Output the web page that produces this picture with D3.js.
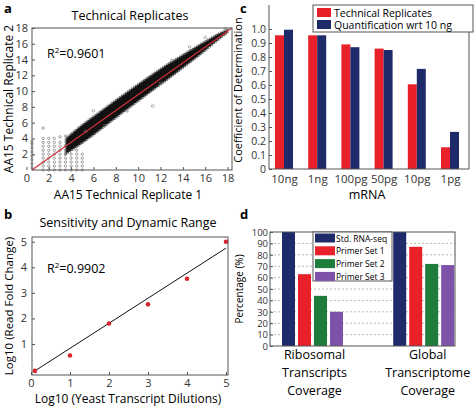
<!DOCTYPE html>
<html><head><meta charset="utf-8">
<script src="https://cdn.jsdelivr.net/npm/d3@7"></script>
<style>body{margin:0;background:#fff}text{font-family:"Open Sans",sans-serif}</style>
</head><body><svg id="c" width="474" height="408"></svg>
<script>
// Panel a: dense band (read edges) + sparse low-count columns
const bandX     = [3.5, 4, 5, 6, 8, 10, 12, 14, 15, 16, 17, 18];
const bandLow   = [2.0, 2.4, 3.4, 4.4, 6.6, 8.7, 10.8, 12.9, 14.0, 15.1, 16.3, 17.4];
const bandHigh  = [4.0, 4.6, 5.8, 6.8, 8.9, 10.9, 12.9, 14.6, 15.5, 16.3, 17.2, 17.8];
const colX  = [0.5, 1.5, 2, 2.5, 3, 3.5, 4, 4.5, 5];
const colY  = [[0.3,0.8,1.3,1.8,2.3,2.8,3.3,3.6],[0,0.5,1,1.5,2,2.5,3,3.5,4,5.3],[0,0.5,1,1.5,2,2.5,3,3.5,4],
               [0,0.5,1,1.5,2,2.5,3,3.5,4],[0,0.5,1,1.5,2,2.5,3,3.5,4.2],[0,0.5,1,1.5,2,2.5,3,4.3],
               [0,0.5,1,1.5,2,4.5],[0,0.5,1,1.5,2,2.5],[0,0.5,1,1.5,2]];
const outliers = [[5.3,4.9],[7,5.6],[9,7.5],[11.3,8.1],[12,11],[14.6,15.6],[16,16.8],[17.8,17.9],[13,13.9],[6,7.5]];
const aTicks = [0,2,4,6,8,10,12,14,16,18];
// Panel b
const dilution = [0.1, 1, 2, 3, 4, 5];
const foldChange = [-0.05, 0.55, 1.8, 2.55, 3.55, 5.0];
const fitLine = [[0.1,-0.05],[5,4.75]];
// Panel c
const mrna = ["10ng","1ng","100pg","50pg","10pg","1pg"];
const techRep = [0.955,0.955,0.89,0.86,0.605,0.155];
const quant10 = [0.995,0.955,0.87,0.85,0.715,0.265];
const cTicks = [0,0.1,0.2,0.3,0.4,0.5,0.6,0.7,0.8,0.9,1.0];
// Panel d
const coverage = ["Ribosomal Transcripts Coverage","Global Transcriptome Coverage"];
const coverageLines = [["Ribosomal","Transcripts","Coverage"],["Global","Transcriptome","Coverage"]];
const dSeries = ["Std. RNA-seq","Primer Set 1","Primer Set 2","Primer Set 3"];
const dValues = [[100,63,44,30],[100,87,72,71]];
const dTicks = [0,10,20,30,40,50,60,70,80,90,100];

const svg = d3.select("#c");
const RED="#e8202a", NAVY="#1f2a6b", GREEN="#1f7d3c", PURPLE="#7e52a9";
function styleAxis(g){g.selectAll("path,line").attr("stroke","#555");g.selectAll("text").attr("fill","#333");}
function letter(t,x,y){svg.append("text").attr("x",x).attr("y",y).attr("font-size",13).attr("font-weight","bold").attr("font-family","Arial,sans-serif").text(t);}

// ---- a
{
const x=d3.scaleLinear().domain([0.5,18.4]).range([32,232]);
const y=d3.scaleLinear().domain([0,18]).range([170,28]);
const g=svg.append("g");
colX.forEach((cx,i)=>colY[i].forEach(cy=>g.append("circle").attr("cx",x(cx)).attr("cy",y(cy)).attr("r",1.2).attr("fill","none").attr("stroke","#666").attr("stroke-width",0.6)));
const area=d3.area().x((d,i)=>x(bandX[i])).y0((d,i)=>y(bandLow[i])).y1((d,i)=>y(bandHigh[i])).curve(d3.curveBasis);
g.append("path").datum(bandX).attr("d",area).attr("fill","#111").attr("stroke","#777").attr("stroke-width",2).attr("stroke-dasharray","1.5,1");
outliers.forEach(p=>g.append("circle").attr("cx",x(p[0])).attr("cy",y(p[1])).attr("r",1.3).attr("fill","none").attr("stroke","#777").attr("stroke-width",0.6));
g.append("line").attr("x1",x(0.5)).attr("y1",y(0)).attr("x2",x(18.4)).attr("y2",y(18)).attr("stroke","#d03038").attr("stroke-width",1.2);
g.append("rect").attr("x",32).attr("y",28).attr("width",200).attr("height",142).attr("fill","none").attr("stroke","#555");
const xa=g.append("g").attr("transform","translate(0,170)").call(d3.axisBottom(x).tickValues(aTicks).tickSize(-3).tickPadding(4));
xa.select(".domain").remove();xa.selectAll("text").attr("font-size",11);styleAxis(xa);
const ya=g.append("g").attr("transform","translate(32,0)").call(d3.axisLeft(y).tickValues(aTicks.slice(1)).tickSize(-3).tickPadding(4));
ya.select(".domain").remove();ya.selectAll("text").attr("font-size",11);styleAxis(ya);
svg.append("text").attr("x",130).attr("y",20).attr("text-anchor","middle").attr("font-size",12.5).text("Technical Replicates");
svg.append("text").attr("x",128).attr("y",199).attr("text-anchor","middle").attr("font-size",12).text("AA15 Technical Replicate 1");
svg.append("text").attr("transform","translate(13,99) rotate(-90)").attr("text-anchor","middle").attr("font-size",12).text("AA15 Technical Replicate 2");
const r=svg.append("text").attr("x",47).attr("y",58).attr("font-size",12.5);
r.append("tspan").text("R");r.append("tspan").attr("font-size",8).attr("dy",-5).text("2");r.append("tspan").attr("dy",5).text("=0.9601");
letter("a",4,13);
}
// ---- b
{
const x=d3.scaleLinear().domain([0,5]).range([31,226]);
const y=d3.scaleLinear().domain([0,5]).range([369.6,241.7]);
const g=svg.append("g");
g.append("line").attr("x1",x(fitLine[0][0])).attr("y1",y(fitLine[0][1])).attr("x2",x(fitLine[1][0])).attr("y2",y(fitLine[1][1])).attr("stroke","#111").attr("stroke-width",1);
dilution.forEach((d,i)=>g.append("circle").attr("cx",x(d)).attr("cy",y(foldChange[i])).attr("r",2.3).attr("fill","#d8252e"));
g.append("rect").attr("x",32).attr("y",237).attr("width",196).attr("height",138).attr("fill","none").attr("stroke","#555");
const xa=g.append("g").attr("transform","translate(0,375)").call(d3.axisBottom(x).tickValues([0,1,2,3,4,5]).tickFormat(d3.format("d")).tickSize(-3).tickPadding(4));
xa.select(".domain").remove();xa.selectAll("text").attr("font-size",11);styleAxis(xa);
const ya=g.append("g").attr("transform","translate(32,0)").call(d3.axisLeft(y).tickValues([1,2,3,4,5]).tickFormat(d3.format("d")).tickSize(-3).tickPadding(5));
ya.select(".domain").remove();ya.selectAll("text").attr("font-size",11);styleAxis(ya);
svg.append("text").attr("x",128).attr("y",227).attr("text-anchor","middle").attr("font-size",12.5).text("Sensitivity and Dynamic Range");
svg.append("text").attr("x",128).attr("y",403).attr("text-anchor","middle").attr("font-size",12).text("Log10 (Yeast Transcript Dilutions)");
svg.append("text").attr("transform","translate(13,306) rotate(-90)").attr("text-anchor","middle").attr("font-size",11.5).text("Log10 (Read Fold Change)");
const r=svg.append("text").attr("x",47).attr("y",273).attr("font-size",12.5);
r.append("tspan").text("R");r.append("tspan").attr("font-size",8).attr("dy",-5).text("2");r.append("tspan").attr("dy",5).text("=0.9902");
letter("b",4,219);
}
// ---- c
{
const x=d3.scalePoint().domain(mrna).range([284,450]);
const y=d3.scaleLinear().domain([0,1]).range([169,29]);
const g=svg.append("g");
mrna.forEach((m,i)=>{
 g.append("rect").attr("x",x(m)-9).attr("y",y(techRep[i])).attr("width",9).attr("height",y(0)-y(techRep[i])).attr("fill",RED);
 g.append("rect").attr("x",x(m)).attr("y",y(quant10[i])).attr("width",9).attr("height",y(0)-y(quant10[i])).attr("fill",NAVY);
});
g.append("path").attr("d","M269,5V169H469V5").attr("fill","none").attr("stroke","#555");
const xa=g.append("g").attr("transform","translate(0,169)").call(d3.axisBottom(x).tickSize(0).tickPadding(6));
xa.select(".domain").remove();xa.selectAll("text").attr("font-size",11.5);styleAxis(xa);
const ya=g.append("g").attr("transform","translate(269,0)").call(d3.axisLeft(y).tickValues(cTicks).tickFormat(d=>d===0?"0":d3.format(".1f")(d)).tickSize(-3).tickPadding(3));
ya.select(".domain").remove();ya.selectAll("text").attr("font-size",10.5);styleAxis(ya);
svg.append("text").attr("x",367).attr("y",199).attr("text-anchor","middle").attr("font-size",12.5).text("mRNA");
svg.append("text").attr("transform","translate(242,90) rotate(-90)").attr("text-anchor","middle").attr("font-size",11).text("Coefficient of Determination");
g.append("rect").attr("x",313).attr("y",5).attr("width",160).attr("height",27).attr("fill","#fff").attr("stroke","#555");
[["Technical Replicates",RED],["Quantification wrt 10 ng",NAVY]].forEach((l,i)=>{
 g.append("rect").attr("x",317).attr("y",8+i*12).attr("width",14).attr("height",9).attr("fill",l[1]);
 g.append("text").attr("x",334).attr("y",16.5+i*12).attr("font-size",10.5).text(l[0]);
});
letter("c",240,13);
}
// ---- d
{
const x=d3.scalePoint().domain(coverage).range([312.5,423.7]);
const y=d3.scaleLinear().domain([0,100]).range([346,232]);
const sub=d3.scalePoint().domain(dSeries).range([-24,24]);
const cols=[NAVY,RED,GREEN,PURPLE];
const g=svg.append("g");
dTicks.slice(1,-1).forEach(t=>g.append("line").attr("x1",270).attr("x2",455).attr("y1",y(t)).attr("y2",y(t)).attr("stroke","#bbb").attr("stroke-dasharray","2,2"));
coverage.forEach((c,i)=>dSeries.forEach((s,j)=>g.append("rect").attr("x",x(c)+sub(s)-6.5).attr("y",y(dValues[i][j])).attr("width",13).attr("height",y(0)-y(dValues[i][j])).attr("fill",cols[j])));
g.append("rect").attr("x",270).attr("y",232).attr("width",185).attr("height",114).attr("fill","none").attr("stroke","#555");
const ya=g.append("g").attr("transform","translate(270,0)").call(d3.axisLeft(y).tickValues(dTicks).tickSize(-3).tickPadding(2));
ya.select(".domain").remove();ya.selectAll("text").attr("font-size",9.5).attr("dy","0.35em");styleAxis(ya);
coverage.forEach((c,i)=>coverageLines[i].forEach((t,k)=>svg.append("text").attr("x",x(c)+(i?4:2)).attr("y",359+k*18).attr("text-anchor","middle").attr("font-size",12.5).text(t)));
svg.append("text").attr("transform","translate(243,289) rotate(-90)").attr("text-anchor","middle").attr("font-size",10).text("Percentage (%)");
g.append("rect").attr("x",313).attr("y",232).attr("width",79).attr("height",49).attr("fill","#fff").attr("stroke","#555");
dSeries.forEach((s,j)=>{
 g.append("rect").attr("x",315).attr("y",233.5+j*12.8).attr("width",20).attr("height",9).attr("fill",cols[j]);
 g.append("text").attr("x",336).attr("y",241.5+j*12.8).attr("font-size",8.5).text(s);
});
letter("d",240,219);
}
</script></body></html>
